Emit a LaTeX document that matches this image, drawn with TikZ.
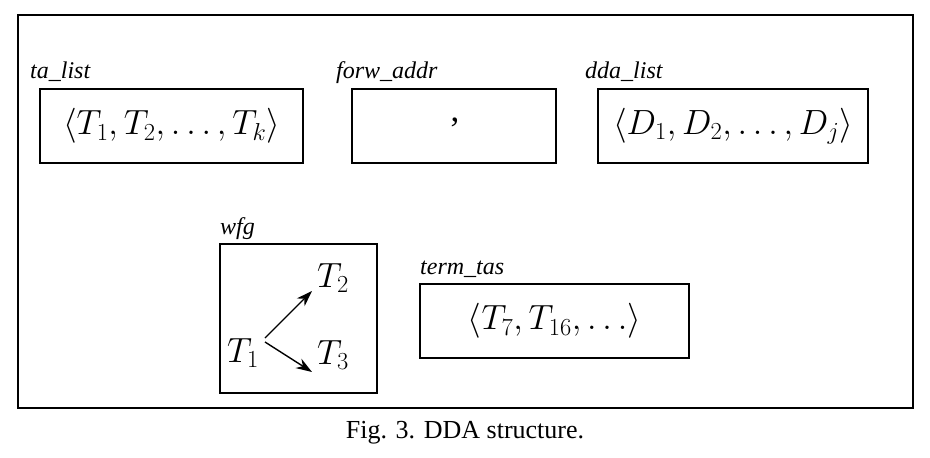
\RequirePackage{fix-cm}
\documentclass[tikz,border=0pt]{standalone}
\usepackage{fontspec}
\setmainfont{Liberation Serif}
\usetikzlibrary{arrows.meta}
\begin{document}
\begin{tikzpicture}[x=1pt,y=-1pt,
  box/.style={draw,line width=1.2pt},
  lab/.style={anchor=base west,inner sep=0,font=\fontsize{24}{28}\selectfont\itshape},
  mth/.style={font=\fontsize{35}{40}\selectfont},
  arr/.style={-{Stealth[length=16pt,width=11pt]},line width=1.4pt}]
\useasboundingbox (0,0) rectangle (930,458);
\draw[line width=1.2pt] (18,15) rectangle (913,408);
\draw[box] (40,89) rectangle (303,163);
\node[mth] (ta) at (171.5,126) {$\langle T_1,T_2,\ldots,T_k\rangle$};
\node[lab] (tal) at (30,78) {ta\_list};
\draw[box] (352,89) rectangle (556,163);
\node[mth] (fa) at (455,122) {,};
\node[lab] (fal) at (336,78) {forw\_addr};
\draw[box] (598,89) rectangle (868,163);
\node[mth] (dd) at (733,126) {$\langle D_1,D_2,\ldots,D_j\rangle$};
\node[lab] (ddl) at (585,78) {dda\_list};
\draw[box] (220,244) rectangle (377,393);
\node[lab] (wl) at (220,234) {wfg};
\node[mth,inner sep=1pt] (t1) at (243,353) {$T_1$};
\node[mth,inner sep=1pt] (t2) at (333,278) {$T_2$};
\node[mth,inner sep=1pt] (t3) at (333,355) {$T_3$};
\draw[arr] (265,338) -- (312,291);
\draw[arr] (265,342) -- (312,372);
\draw[box] (420,284) rectangle (689,358);
\node[mth] (tt) at (554.5,321) {$\langle T_7,T_{16},\ldots\rangle$};
\node[lab] (ttl) at (420,274) {term\_tas};
\node[font=\fontsize{26}{30}\selectfont] (cap) at (465,433) {Fig. 3. DDA structure.};
\end{tikzpicture}
\end{document}
